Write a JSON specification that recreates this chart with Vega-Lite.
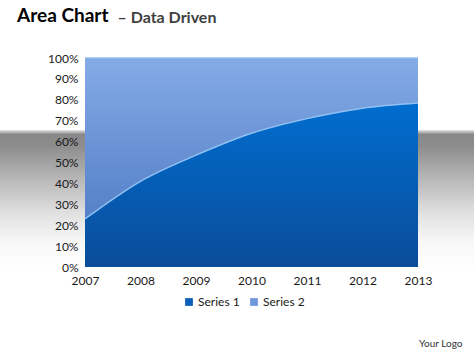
{
  "$schema": "https://vega.github.io/schema/vega-lite/v6.json",
  "width": 333,
  "height": 209,
  "autosize": {"type": "none"},
  "padding": {"left": 85, "top": 58, "right": 56, "bottom": 88},
  "background": "white",
  "config": {"view": {"stroke": null}, "font": "Lato", "axis": {"labelOverlap": false}},
  "title": {"text": "Area Chart", "anchor": "start", "frame": "group", "dx": -68, "dy": 42, "fontSize": 19, "fontWeight": "bold", "color": "#000000", "font": "Lato", "baseline": "alphabetic", "offset": 10},
  "datasets": {
    "band": [{"x0": 2004, "x1": 2016, "top": 0.655, "bottom": -0.02}],
    "s": [
      {"year": 2007, "series": "Series 1", "value": 23},
      {"year": 2008, "series": "Series 1", "value": 41},
      {"year": 2009, "series": "Series 1", "value": 53.5},
      {"year": 2010, "series": "Series 1", "value": 64},
      {"year": 2011, "series": "Series 1", "value": 71},
      {"year": 2012, "series": "Series 1", "value": 76},
      {"year": 2013, "series": "Series 1", "value": 78.5},
      {"year": 2007, "series": "Series 2", "value": 77},
      {"year": 2008, "series": "Series 2", "value": 59},
      {"year": 2009, "series": "Series 2", "value": 46.5},
      {"year": 2010, "series": "Series 2", "value": 36},
      {"year": 2011, "series": "Series 2", "value": 29},
      {"year": 2012, "series": "Series 2", "value": 24},
      {"year": 2013, "series": "Series 2", "value": 21.5}
    ]
  },
  "layer": [
    {
      "data": {"name": "band"},
      "mark": {"type": "rect", "clip": false, "fill": {"gradient": "linear", "x1": 0, "y1": 0, "x2": 0, "y2": 1, "stops": [{"offset": 0, "color": "#e4e4e4"}, {"offset": 0.03, "color": "#888888"}, {"offset": 0.12, "color": "#8e8e8e"}, {"offset": 0.35, "color": "#b8b8b8"}, {"offset": 0.6, "color": "#e2e2e2"}, {"offset": 0.8, "color": "#f8f8f8"}, {"offset": 1, "color": "#ffffff"}]}},
      "encoding": {
        "x": {"field": "x0", "type": "quantitative", "scale": {"domain": [2007, 2013], "nice": false, "zero": false},
          "axis": {"values": [2007, 2008, 2009, 2010, 2011, 2012, 2013], "tickCount": 20, "format": "d", "grid": false, "domain": false, "ticks": false, "labelFlush": false, "zindex": 1, "labelPadding": 8, "labelFontSize": 12, "labelColor": "#1a1a1a", "labelFont": "Lato",
            "title": "Your Logo", "titleX": 377, "titleY": 79, "titleAlign": "right", "titleBaseline": "alphabetic", "titleFontSize": 10, "titleFontWeight": "normal", "titleColor": "#333333", "titleFont": "Lato"}},
        "x2": {"field": "x1"},
        "y": {"field": "top", "type": "quantitative", "scale": {"domain": [0, 1], "nice": false},
          "axis": {"values": [0, 0.1, 0.2, 0.3, 0.4, 0.5, 0.6, 0.7, 0.8, 0.9, 1], "tickCount": 20, "format": ".0%", "grid": false, "domain": false, "ticks": false, "labelFlush": false, "zindex": 1, "labelPadding": 7, "labelFontSize": 12, "labelColor": "#1a1a1a", "labelFont": "Lato",
            "title": "– Data Driven", "titleAngle": 0, "titleX": 32, "titleY": -36, "titleAlign": "left", "titleBaseline": "alphabetic", "titleFontSize": 16, "titleFontWeight": "bold", "titleColor": "#404040", "titleFont": "Lato"}},
        "y2": {"field": "bottom"}
      }
    },
    {
      "data": {"name": "s"},
      "transform": [
        {"stack": "value", "groupby": ["year"], "sort": [{"field": "series"}], "offset": "normalize", "as": ["v0", "v1"]},
        {"filter": "datum.series === 'Series 1'"}
      ],
      "mark": {"type": "area", "interpolate": "monotone", "fill": {"gradient": "linear", "x1": 0, "y1": 0, "x2": 0, "y2": 1, "stops": [{"offset": 0, "color": "#006dcf"}, {"offset": 1, "color": "#0a4d99"}]}},
      "encoding": {
        "x": {"field": "year", "type": "quantitative"},
        "y": {"field": "v1", "type": "quantitative"},
        "y2": {"field": "v0"}
      }
    },
    {
      "data": {"name": "s"},
      "transform": [
        {"stack": "value", "groupby": ["year"], "sort": [{"field": "series"}], "offset": "normalize", "as": ["v0", "v1"]},
        {"filter": "datum.series === 'Series 2'"}
      ],
      "mark": {"type": "area", "interpolate": "monotone", "fill": {"gradient": "linear", "x1": 0, "y1": 0, "x2": 0, "y2": 1, "stops": [{"offset": 0, "color": "#85abe6"}, {"offset": 1, "color": "#5580c8"}]}},
      "encoding": {
        "x": {"field": "year", "type": "quantitative"},
        "y": {"field": "v1", "type": "quantitative"},
        "y2": {"field": "v0"}
      }
    },
    {
      "data": {"name": "s"},
      "transform": [
        {"stack": "value", "groupby": ["year"], "sort": [{"field": "series"}], "offset": "normalize", "as": ["v0", "v1"]}
      ],
      "mark": {"type": "line", "interpolate": "monotone", "color": "#8fc1f3", "strokeWidth": 1.5},
      "encoding": {
        "x": {"field": "year", "type": "quantitative"},
        "y": {"field": "v1", "type": "quantitative"},
        "detail": {"field": "series"}
      }
    },
    {
      "data": {"name": "s"},
      "transform": [
        {"stack": "value", "groupby": ["year"], "sort": [{"field": "series"}], "offset": "normalize", "as": ["v0", "v1"]}
      ],
      "mark": {"type": "square", "opacity": 0, "filled": true},
      "encoding": {
        "x": {"field": "year", "type": "quantitative"},
        "y": {"field": "v1", "type": "quantitative"},
        "color": {"field": "series", "type": "nominal",
          "scale": {"domain": ["Series 1", "Series 2"], "range": ["#0b5fba", "#6f98dc"]},
          "legend": {"orient": "none", "legendX": 98, "legendY": 238, "direction": "horizontal", "title": null, "symbolType": "square", "symbolSize": 60, "symbolOpacity": 1, "symbolStrokeWidth": 0, "labelOffset": 3, "labelFontSize": 12, "labelFont": "Lato", "labelColor": "#1a1a1a", "columnPadding": 8}}
      }
    }
  ]
}
